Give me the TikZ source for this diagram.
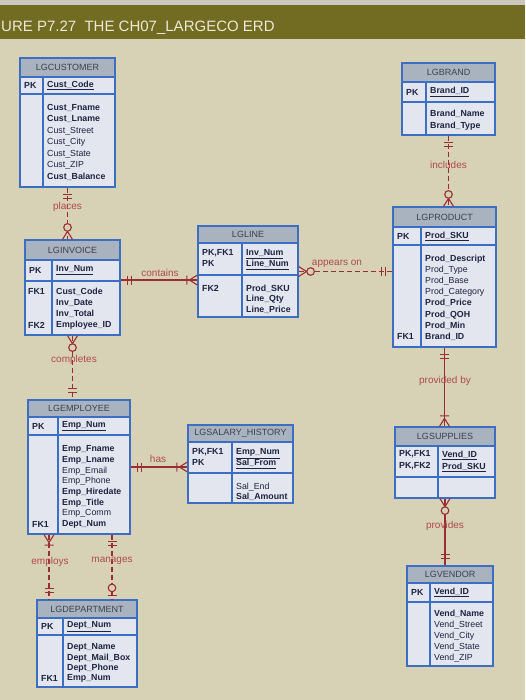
\documentclass[tikz,border=0pt]{standalone}
\usepackage{xcolor}
\usepackage{fontspec}
\setmainfont{Liberation Sans}
\usepackage{tikz}
\usetikzlibrary{calc}
\usetikzlibrary{fit}

\definecolor{bgpaper}{HTML}{D7D1B6}
\definecolor{bgtop}{HTML}{CBC8C0}
\definecolor{band}{HTML}{726B22}
\definecolor{bandtxt}{HTML}{ECE9D6}
\definecolor{eblue}{HTML}{3C6FC2}
\definecolor{efill}{HTML}{E3E6EE}
\definecolor{ehdr}{HTML}{A9B2BF}
\definecolor{etxt}{HTML}{1D2442}
\definecolor{ettl}{HTML}{3B4150}
\definecolor{relred}{HTML}{9A2E36}
\definecolor{lblred}{HTML}{B04A50}

\tikzset{
  ebox/.style={draw=eblue, line width=1.2pt, fill=efill, inner sep=0pt},
  ehead/.style={draw=eblue, line width=1.2pt, fill=ehdr},
  esep/.style={draw=eblue, line width=1.2pt},
  etitle/.style={text=ettl, font=\fontsize{9}{10}\selectfont, inner sep=0pt},
  ekey/.style={text=etxt, font=\bfseries\fontsize{8.8}{10}\selectfont, anchor=west, inner sep=0pt},
  eattr/.style={text=etxt, font=\bfseries\fontsize{8.8}{#1}\selectfont, align=left, anchor=north west, inner sep=0pt},
  eattr/.default=11.2,
  rel/.style={draw=relred, line width=1.1pt},
  nonid/.style={rel, dash pattern=on 5pt off 3pt},
  rlabel/.style={text=lblred, font=\fontsize{10}{12}\selectfont, inner sep=1pt},
  twobar/.pic={\draw[rel] (7,-4.5) -- (7,4.5) (11,-4.5) -- (11,4.5);},
  crowbar/.pic={\draw[rel] (0,-5) -- (8,0) -- (0,5) (10.5,-4.5) -- (10.5,4.5);},
  crowring/.pic={\draw[rel] (0,-5) -- (8,0) -- (0,5); \draw[rel, fill=bgpaper] (12,0) circle[radius=3.8pt];},
  barring/.pic={\draw[rel] (4,-4.5) -- (4,4.5); \draw[rel, fill=bgpaper] (11.5,0) circle[radius=3.8pt];},
}

\begin{document}
\begin{tikzpicture}[x=1pt, y=-1pt]
  \useasboundingbox (0,0) rectangle (525,700);

  % Drawing paper and title band
  \fill[bgpaper] (0,0) rectangle (525,700);
  \fill[bgtop] (0,0) rectangle (525,5);
  \fill[band] (0,5) rectangle (525,39);
  \node[anchor=base west, text=bandtxt, font=\fontsize{15}{18}\selectfont, inner sep=0pt] (fig-title) at (1,32) {URE P7.27\ \ THE CH07\_LARGECO ERD};

  % Drawing entity LGCUSTOMER
  \node[ebox, fit={(20,58) (115,187)}] (cust) {};
  \draw[ehead] (20,58) rectangle (115,77);
  \draw[esep] (20,94) -- (115,94) (43,77) -- (43,187);
  \node[etitle] (cust-t) at (67.5,67.5) {LGCUSTOMER};
  \node[ekey] (cust-pk) at (24,85.5) {PK};
  \node[ekey] (cust-id) at (47,85.5) {\underline{Cust\_Code}};
  \node[eattr=11.5] (cust-at) at (47,104) {Cust\_Fname\\Cust\_Lname\\\mdseries Cust\_Street\\\mdseries Cust\_City\\\mdseries Cust\_State\\\mdseries Cust\_ZIP\\Cust\_Balance};

  % Drawing entity LGINVOICE
  \node[ebox, fit={(25,240) (120,335)}] (inv) {};
  \draw[ehead] (25,240) rectangle (120,260);
  \draw[esep] (25,281) -- (120,281) (52,260) -- (52,335);
  \node[etitle] (inv-t) at (72.5,250) {LGINVOICE};
  \node[ekey] (inv-pk) at (29,270.5) {PK};
  \node[ekey] (inv-id) at (56,270.5) {\underline{Inv\_Num}};
  \node[ekey] (inv-fk1) at (28,291) {FK1};
  \node[ekey] (inv-fk2) at (28,325) {FK2};
  \node[eattr=11.3] (inv-at) at (56,287.5) {Cust\_Code\\Inv\_Date\\Inv\_Total\\Employee\_ID};

  % Drawing entity LGLINE
  \node[ebox, fit={(198,226) (298,317)}] (line) {};
  \draw[ehead] (198,226) rectangle (298,243);
  \draw[esep] (198,275) -- (298,275) (242,243) -- (242,317);
  \node[etitle] (line-t) at (248,234.5) {LGLINE};
  \node[eattr=11] (line-pk) at (202,249.5) {PK,FK1\\PK};
  \node[eattr=11] (line-id) at (246,249.5) {\underline{Inv\_Num}\\\underline{Line\_Num}};
  \node[ekey] (line-fk2) at (202,288) {FK2};
  \node[eattr=10.5] (line-at) at (246,284.5) {Prod\_SKU\\Line\_Qty\\Line\_Price};

  % Drawing entity LGBRAND
  \node[ebox, fit={(402,63) (495,135)}] (brand) {};
  \draw[ehead] (402,63) rectangle (495,82);
  \draw[esep] (402,102) -- (495,102) (426,82) -- (426,135);
  \node[etitle] (brand-t) at (448.5,72.5) {LGBRAND};
  \node[ekey] (brand-pk) at (406,92) {PK};
  \node[ekey] (brand-id) at (430,92) {\underline{Brand\_ID}};
  \node[eattr=12] (brand-at) at (430,109.5) {Brand\_Name\\Brand\_Type};

  % Drawing entity LGPRODUCT
  \node[ebox, fit={(393,207) (496,347)}] (prod) {};
  \draw[ehead] (393,207) rectangle (496,227);
  \draw[esep] (393,245) -- (496,245) (421,227) -- (421,347);
  \node[etitle] (prod-t) at (444.5,217) {LGPRODUCT};
  \node[ekey] (prod-pk) at (397,236.5) {PK};
  \node[ekey] (prod-id) at (425,236.5) {\underline{Prod\_SKU}};
  \node[ekey] (prod-fk1) at (397,336.5) {FK1};
  \node[eattr=11.2] (prod-at) at (425,254.5) {Prod\_Descript\\\mdseries Prod\_Type\\\mdseries Prod\_Base\\\mdseries Prod\_Category\\Prod\_Price\\Prod\_QOH\\Prod\_Min\\Brand\_ID};

  % Drawing entity LGEMPLOYEE
  \node[ebox, fit={(28,400) (130,534)}] (emp) {};
  \draw[ehead] (28,400) rectangle (130,417);
  \draw[esep] (28,435) -- (130,435) (58,417) -- (58,534);
  \node[etitle] (emp-t) at (79,408.5) {LGEMPLOYEE};
  \node[ekey] (emp-pk) at (32,426) {PK};
  \node[ekey] (emp-id) at (62,426) {\underline{Emp\_Num}};
  \node[ekey] (emp-fk1) at (32,524) {FK1};
  \node[eattr=10.7] (emp-at) at (62,445.5) {Emp\_Fname\\Emp\_Lname\\\mdseries Emp\_Email\\\mdseries Emp\_Phone\\Emp\_Hiredate\\Emp\_Title\\\mdseries Emp\_Comm\\Dept\_Num};

  % Drawing entity LGSALARY_HISTORY
  \node[ebox, fit={(188,425) (293,503)}] (sal) {};
  \draw[ehead] (188,425) rectangle (293,442);
  \draw[esep] (188,473) -- (293,473) (232,442) -- (232,503);
  \node[etitle] (sal-t) at (240.5,433.5) {LGSALARY\_HISTORY};
  \node[eattr=11] (sal-pk) at (192,448.5) {PK,FK1\\PK};
  \node[eattr=11] (sal-id) at (236,448.5) {\underline{Emp\_Num}\\\underline{Sal\_From}};
  \node[eattr=10.5] (sal-at) at (236,482.5) {\mdseries Sal\_End\\Sal\_Amount};

  % Drawing entity LGSUPPLIES
  \node[ebox, fit={(395,427) (495,498)}] (sup) {};
  \draw[ehead] (395,427) rectangle (495,446);
  \draw[esep] (395,477) -- (495,477) (438,446) -- (438,498);
  \node[etitle] (sup-t) at (445,436.5) {LGSUPPLIES};
  \node[eattr=12] (sup-pk) at (399,450.5) {PK,FK1\\PK,FK2};
  \node[eattr=12] (sup-id) at (442,450.5) {\underline{Vend\_ID}\\\underline{Prod\_SKU}};

  % Drawing entity LGVENDOR
  \node[ebox, fit={(407,566) (493,666)}] (vend) {};
  \draw[ehead] (407,566) rectangle (493,583);
  \draw[esep] (407,602) -- (493,602) (430,583) -- (430,666);
  \node[etitle] (vend-t) at (450,574.5) {LGVENDOR};
  \node[ekey] (vend-pk) at (411,592.5) {PK};
  \node[ekey] (vend-id) at (434,592.5) {\underline{Vend\_ID}};
  \node[eattr=11] (vend-at) at (434,609.5) {Vend\_Name\\\mdseries Vend\_Street\\\mdseries Vend\_City\\\mdseries Vend\_State\\\mdseries Vend\_ZIP};

  % Drawing entity LGDEPARTMENT
  \node[ebox, fit={(37,600) (137,687)}] (dept) {};
  \draw[ehead] (37,600) rectangle (137,618);
  \draw[esep] (37,635) -- (137,635) (63,618) -- (63,687);
  \node[etitle] (dept-t) at (87,609) {LGDEPARTMENT};
  \node[ekey] (dept-pk) at (41,626.5) {PK};
  \node[ekey] (dept-id) at (67,626.5) {\underline{Dept\_Num}};
  \node[ekey] (dept-fk1) at (41,678) {FK1};
  \node[eattr=10.4] (dept-at) at (67,643.5) {Dept\_Name\\Dept\_Mail\_Box\\Dept\_Phone\\Emp\_Num};

  % Drawing relationship places
  \coordinate (places-b) at (cust.south |- inv.north);
  \draw[nonid] (cust.south) -- (places-b);
  \path (cust.south) pic[rotate=-90] {twobar} (places-b) pic[rotate=90] {crowring};
  \node[rlabel] (places-l) at (67.5,207) {places};

  % Drawing relationship completes
  \coordinate (completes-b) at (inv.south |- emp.north);
  \draw[nonid] (inv.south) -- (completes-b);
  \path (inv.south) pic[rotate=-90] {crowring} (completes-b) pic[rotate=90] {twobar};
  \node[rlabel] (completes-l) at (74,360) {completes};

  % Drawing relationship contains
  \coordinate (contains-a) at ([yshift=7.5pt]inv.east);
  \coordinate (contains-b) at (contains-a -| line.west);
  \draw[rel] (contains-a) -- (contains-b);
  \path (contains-a) pic {twobar} (contains-b) pic[rotate=180] {crowbar};
  \node[rlabel] (contains-l) at (160,273) {contains};

  % Drawing relationship appears on
  \coordinate (appears-b) at (line.east -| prod.west);
  \draw[nonid] (line.east) -- (appears-b);
  \path (line.east) pic {crowring} (appears-b) pic[rotate=180] {twobar};
  \node[rlabel] (appears-l) at (337,264) {appears on};

  % Drawing relationship includes
  \coordinate (includes-b) at (brand.south |- prod.north);
  \draw[nonid] (brand.south) -- (includes-b);
  \path (brand.south) pic[rotate=-90] {twobar} (includes-b) pic[rotate=90] {crowring};
  \node[rlabel] (includes-l) at (448.5,165) {includes};

  % Drawing relationship provided by
  \coordinate (providedby-b) at (prod.south |- sup.north);
  \draw[rel] (prod.south) -- (providedby-b);
  \path (prod.south) pic[rotate=-90] {twobar} (providedby-b) pic[rotate=90] {crowbar};
  \node[rlabel] (providedby-l) at (445,381) {provided by};

  % Drawing relationship provides
  \coordinate (provides-b) at (sup.south |- vend.north);
  \draw[rel] (sup.south) -- (provides-b);
  \path (sup.south) pic[rotate=-90] {crowring} (provides-b) pic[rotate=90] {twobar};
  \node[rlabel] (provides-l) at (445,526) {provides};

  % Drawing relationship has
  \coordinate (has-b) at (emp.east -| sal.west);
  \draw[rel] (emp.east) -- (has-b);
  \path (emp.east) pic {twobar} (has-b) pic[rotate=180] {crowbar};
  \node[rlabel] (has-l) at (158,459) {has};

  % Drawing relationship employs
  \coordinate (employs-a) at ([xshift=-30pt]emp.south);
  \coordinate (employs-b) at (employs-a |- dept.north);
  \draw[nonid] (employs-a) -- (employs-b);
  \path (employs-a) pic[rotate=-90] {crowbar} (employs-b) pic[rotate=90] {twobar};
  \node[rlabel] (employs-l) at (50,562) {employs};

  % Drawing relationship manages
  \coordinate (manages-a) at ([xshift=33pt]emp.south);
  \coordinate (manages-b) at (manages-a |- dept.north);
  \draw[nonid] (manages-a) -- (manages-b);
  \path (manages-a) pic[rotate=-90] {twobar} (manages-b) pic[rotate=90] {barring};
  \node[rlabel] (manages-l) at (112,561) {manages};
\end{tikzpicture}
\end{document}
